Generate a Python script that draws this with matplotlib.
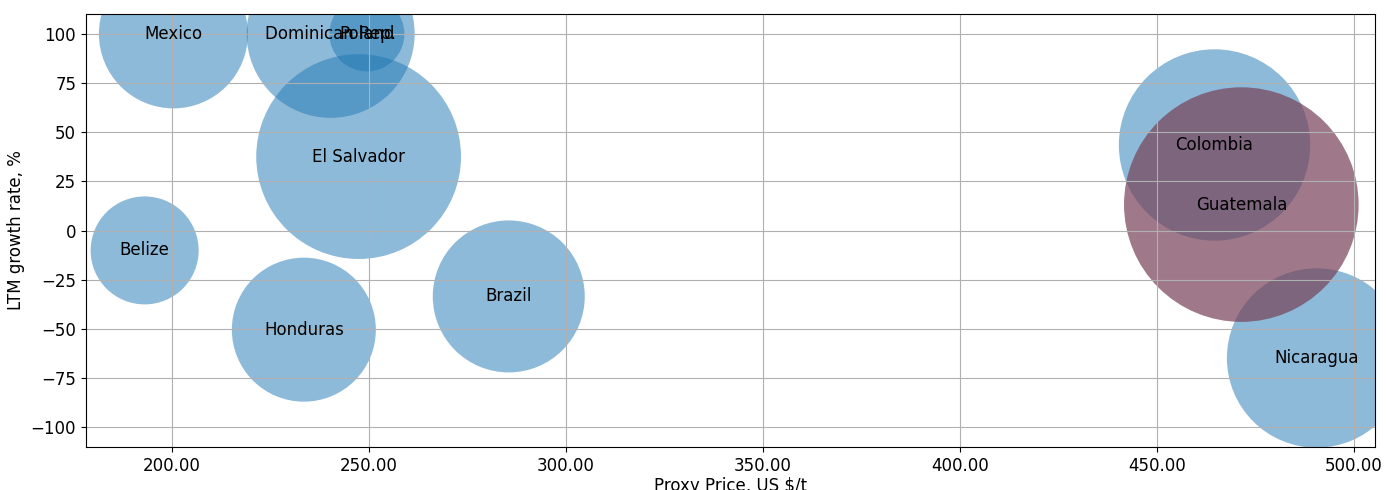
import numpy as np
import matplotlib
matplotlib.use('Agg')
import matplotlib.pyplot as plt
from matplotlib.ticker import FormatStrFormatter

countries = ['Mexico', 'Dominican Rep.', 'Poland', 'El Salvador', 'Belize',
             'Honduras', 'Brazil', 'Colombia', 'Guatemala', 'Nicaragua']
price = [200.4, 240.3, 249.5, 247.4, 193.1, 233.5, 285.5, 464.6, 471.4, 490.5]
growth = [100, 100, 100, 37.6, -10.1, -50.4, -33.5, 43.5, 13.2, -64.8]
# bubble size (points^2)
volume = [11509, 14631, 2916, 21743, 6047, 10750, 11977, 18991, 28532, 16684]
highlight = 'Guatemala'

plt.rcParams['font.family'] = 'DejaVu Sans'
plt.rcParams['font.size'] = 12

fig = plt.figure(figsize=(13.86, 4.9), dpi=100)
ax = fig.add_axes([0.062, 0.088, 0.930, 0.883])

# others first, the highlighted country on top
for c, x, y, s in zip(countries, price, growth, volume):
    if c != highlight:
        ax.scatter(x, y, s=s, color='#1f77b4', alpha=0.5, edgecolors='none')
for c, x, y, s in zip(countries, price, growth, volume):
    if c == highlight:
        ax.scatter(x, y, s=s, color='#774158', alpha=0.7, edgecolors='none')

for c, x, y in zip(countries, price, growth):
    ax.text(x, y, c, ha='center', va='center', fontsize=12)

ax.set_xlim(178.2, 505.3)
ax.set_ylim(-110, 110)
ax.xaxis.set_major_formatter(FormatStrFormatter('%.2f'))
ax.set_xlabel('Proxy Price, US $/t', labelpad=1.5)
ax.set_ylabel('LTM growth rate, %')
ax.grid(True)

fig.savefig('out.png', dpi=100)
